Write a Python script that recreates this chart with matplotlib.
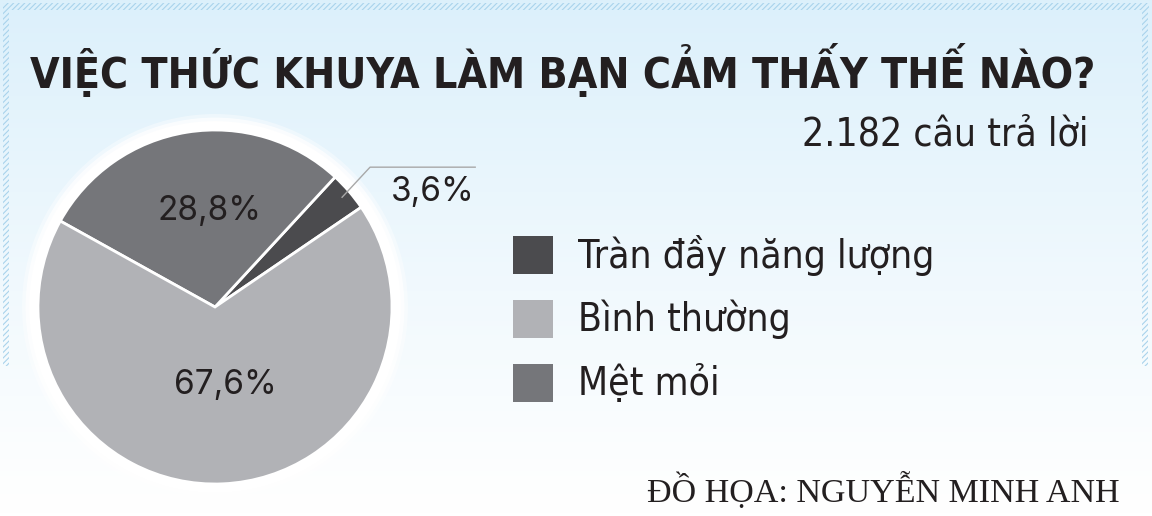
import numpy as np
import matplotlib.pyplot as plt
from matplotlib.patches import Rectangle, Circle
from matplotlib.colors import LinearSegmentedColormap

TITLE = 'VIỆC THỨC KHUYA LÀM BẠN CẢM THẤY THẾ NÀO?'
SUBTITLE = '2.182 câu trả lời'
CREDIT = 'ĐỒ HỌA: NGUYỄN MINH ANH'

categories = ['Tràn đầy năng lượng', 'Bình thường', 'Mệt mỏi']
shares = [3.6, 67.6, 28.8]
colors = ['#4b4b4e', '#b1b2b6', '#75767a']

# order the slices are laid out around the pie (counter-clockwise)
pie_order = [0, 2, 1]

W, H = 1152, 516


def fmt(v):
    return f'{v:.1f}'.replace('.', ',') + '%'


fig = plt.figure(figsize=(W / 100, H / 100), dpi=100)

# background gradient + hatched frame
bg = fig.add_axes([0, 0, 1, 1])
bg.set_xlim(0, W)
bg.set_ylim(0, H)
bg.axis('off')
grad = np.linspace(0, 1, 256).reshape(-1, 1) ** 1.1
cmap = LinearSegmentedColormap.from_list('bg', ['#ffffff', '#dcf0fb'])
bg.imshow(grad, extent=[0, W, 0, H], origin='lower', cmap=cmap, aspect='auto')
plt.rcParams['hatch.linewidth'] = 0.8
for rect in [(3, H - 10, W - 6, 7), (3, 150, 6, H - 160), (W - 10, 150, 6, H - 160)]:
    bg.add_patch(Rectangle(rect[:2], rect[2], rect[3], facecolor='none',
                           edgecolor='#a9d3ec', linewidth=0, hatch='//////'))

title_font = dict(family='DejaVu Sans', stretch='condensed', weight='bold')
bg.text(30, H - 70, TITLE, fontsize=30.7, color='#231f20', va='center',
        ha='left', **title_font)
bg.text(1088, H - 135, SUBTITLE, fontsize=28, color='#231f20', va='center',
        ha='right', family='DejaVu Sans', stretch='condensed')
bg.text(1120, H - 490, CREDIT, fontsize=24.5, color='#231f20', va='center',
        ha='right', family='Liberation Serif')

# legend
for i, (name, col) in enumerate(zip(categories, colors)):
    yc = H - (255 + i * 64)
    bg.add_patch(Rectangle((513, yc - 19), 40, 38, facecolor=col, edgecolor='none'))
    bg.text(578, yc, name, fontsize=28, color='#231f20', va='center', ha='left',
            family='DejaVu Sans', stretch='condensed')

# pie
cx, cy, r = 215, H - 307, 177
lim = 1.1
side = 2 * lim * r
ax = fig.add_axes([(cx - side / 2) / W, (cy - side / 2) / H, side / W, side / H])

ax.pie([shares[i] for i in pie_order], colors=[colors[i] for i in pie_order],
       startangle=34.3, counterclock=True, radius=1.0,
       wedgeprops=dict(edgecolor='white', linewidth=2))
for k, a in zip([1.09, 1.07, 1.05], [0.4, 0.7, 1.0]):
    ax.add_patch(Circle((0, 0), k, facecolor='white', edgecolor='none',
                        alpha=a, zorder=0))
ax.set_xlim(-lim, lim)
ax.set_ylim(-lim, lim)
ax.set_aspect('equal')
ax.axis('off')

pct_font = dict(fontsize=24, color='#231f20', family='Inter')
ax.text(-0.03, 0.54, fmt(shares[2]), ha='center', va='center', **pct_font)
ax.text(0.06, -0.44, fmt(shares[1]), ha='center', va='center', **pct_font)
ax.text(1.23, 0.65, fmt(shares[0]), ha='center', va='center', clip_on=False, **pct_font)
ax.plot([0.718, 0.876, 1.47], [0.62, 0.79, 0.79], color='#a8a8a8', lw=1,
        clip_on=False)

fig.savefig('out.png', dpi=100)
